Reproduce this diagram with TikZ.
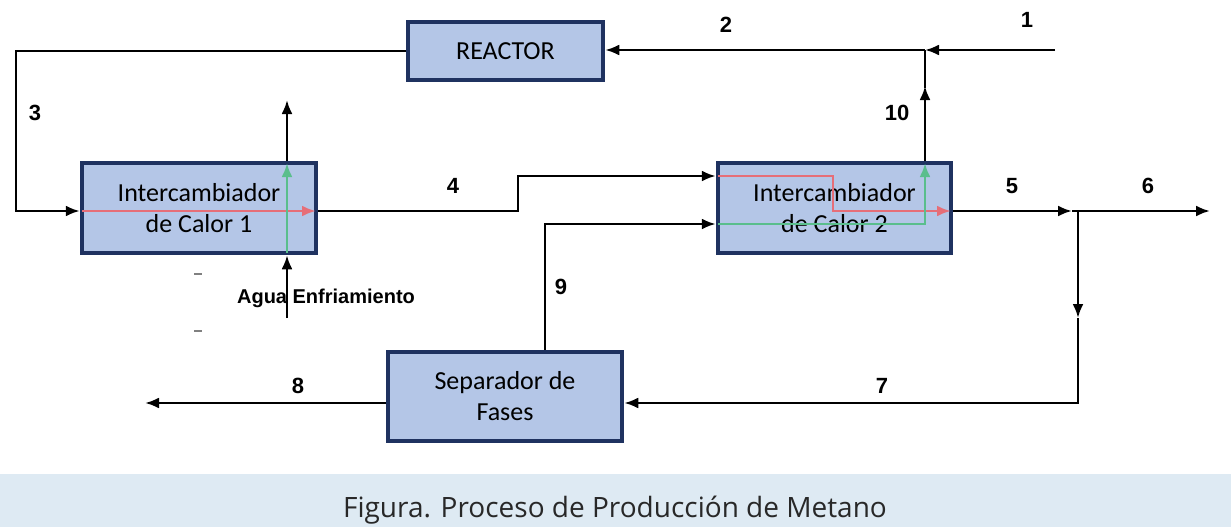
\documentclass[tikz,border=0pt]{standalone}
\usepackage{fontspec}
\usetikzlibrary{arrows.meta}
\setmainfont{Carlito}
\newfontfamily\labfont{Liberation Sans}
\newfontfamily\capfont{Open Sans}
\definecolor{band}{RGB}{222,234,243}
\definecolor{boxfill}{RGB}{180,198,231}
\definecolor{boxline}{RGB}{31,50,96}
\definecolor{redl}{RGB}{230,110,120}
\definecolor{grnl}{RGB}{90,190,140}
\definecolor{captxt}{RGB}{40,40,40}
\begin{document}
\begin{tikzpicture}[x=1pt,y=-1pt,>={Latex[length=14pt,width=11pt]},
  box/.style={draw=boxline,line width=4.5pt,fill=boxfill,align=center,font=\fontsize{26}{31}\selectfont,inner sep=0},
  ln/.style={line width=2.6pt},
  num/.style={font=\labfont\bfseries\fontsize{22}{25}\selectfont},
  red/.style={draw=redl,line width=2.8pt},
  grn/.style={draw=grnl,line width=2.8pt}]
\useasboundingbox (0,0) rectangle (1231,527);
\fill[band] (0,474) rectangle (1231,527);
\node[font=\capfont\fontsize{28}{32}\selectfont,text=captxt] (cap) at (615,510) {Figura. Proceso de Producción de Metano};
\node[box,minimum width=195,minimum height=58] (R) at (505.5,51) {REACTOR};
\node[box,minimum width=234,minimum height=90] (H1) at (199,208) {Intercambiador\\de Calor 1};
\node[box,minimum width=233,minimum height=90] (H2) at (834.5,208) {Intercambiador\\de Calor 2};
\node[box,minimum width=234,minimum height=89] (S) at (505,396.5) {Separador de\\Fases};
% internal flows
\draw[red,->] (82,211) -- (316,211);
\draw[grn,->] (287,253) -- (287,163);
\draw[red,->] (718,176) -- (833,176) -- (833,211) -- (951,211);
\draw[grn,->] (718,224) -- (925,224) -- (925,163);
\coordinate (in1) at (1055,50);
\coordinate (m) at (925,50);
\coordinate (hx1up) at (287,100);
\coordinate (agua) at (287,318);
\coordinate (out6) at (1210,211);
\coordinate (out8) at (145,403);
% streams
\draw[ln,->] (in1) -- (m);
\draw[ln,->] (m) -- (R.east|-m);
\draw[ln,->] (H2.north-|m) -- (925,86);
\draw[ln] (925,88) -- (m);
\draw[ln,->] (R.west) -- (16,51) -- (16,211) -- (H1.west|-0,211);
\draw[ln,->] (H1.north-|hx1up) -- (hx1up);
\draw[ln,->] (agua) -- (H1.south-|agua);
\draw[ln,->] (H1.east|-0,211) -- (518,211) -- (518,176) -- (H2.west|-0,176);
\draw[ln,->] (S.north-|545,0) -- (545,224) -- (H2.west|-0,224);
\draw[ln,->] (H2.east|-0,211) -- (1072,211);
\draw[ln,->] (1072,211) -- (out6);
\draw[ln,->] (1078,211) -- (1078,318);
\draw[ln,->] (1078,318) -- (1078,403) -- (S.east|-0,403);
\draw[ln,->] (S.west|-0,403) -- (out8);
% labels
\node[num] (l1) at (1027,20) {1};
\node[num] (l2) at (726,25) {2};
\node[num] (l3) at (35,113) {3};
\node[num] (l4) at (453,186) {4};
\node[num] (l5) at (1012,186) {5};
\node[num] (l6) at (1148,186) {6};
\node[num] (l7) at (882,386) {7};
\node[num] (l8) at (298,386) {8};
\node[num] (l9) at (561,287) {9};
\node[num] (l10) at (897,113) {10};
\node[font=\labfont\bfseries\fontsize{20}{23}\selectfont] (ag) at (326,298) {Agua Enfriamiento};
\draw[gray,line width=1.4pt] (194,274) -- (202,274) (194,331) -- (202,331);
\draw[ln] (287,285) -- (agua);
\end{tikzpicture}
\end{document}
